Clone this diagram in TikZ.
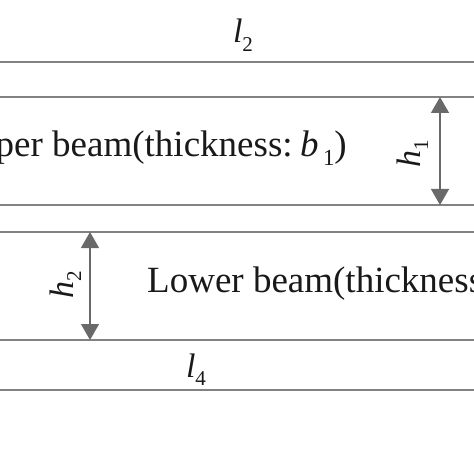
\documentclass[tikz,border=0pt]{standalone}
\usepackage{graphicx}
\usepackage{fontspec}
\setmainfont{Liberation Serif}
\usetikzlibrary{arrows.meta}
\definecolor{beamline}{RGB}{130,130,130}
\definecolor{dimgrey}{RGB}{105,105,105}
\newcommand\mysub[1]{\raisebox{-0.24em}{\scalebox{0.62}{#1}}}
\tikzset{
  beam/.style={draw=beamline, line width=1.6bp},
  dimarrow/.style={draw=dimgrey, line width=1.4bp, {Triangle[width=18bp,length=16bp]}-{Triangle[width=18bp,length=16bp]}},
  bodytext/.style={inner sep=0pt, font=\fontsize{37bp}{44bp}\selectfont, text=black!90},
  labeltext/.style={inner sep=0pt, font=\fontsize{34bp}{40bp}\selectfont, text=black!90},
}
\begin{document}
\begin{tikzpicture}[x=1bp,y=-1bp]
\useasboundingbox (0,0) rectangle (474,474);
\clip (0,0) rectangle (474,474);
% beam edges
\coordinate (a1) at (-5,62);  \coordinate (a2) at (480,62);
\coordinate (b1) at (-5,97);  \coordinate (b2) at (480,97);
\coordinate (c1) at (-5,205); \coordinate (c2) at (480,205);
\coordinate (d1) at (-5,232); \coordinate (d2) at (480,232);
\coordinate (e1) at (-5,340); \coordinate (e2) at (480,340);
\coordinate (f1) at (-5,390); \coordinate (f2) at (480,390);
\draw[beam] (a1) -- (a2);
\draw[beam] (b1) -- (b2);
\draw[beam] (c1) -- (c2);
\draw[beam] (d1) -- (d2);
\draw[beam] (e1) -- (e2);
\draw[beam] (f1) -- (f2);
% dimension arrows
\coordinate (h1top) at (440,97);
\coordinate (h1bot) at (440,205);
\coordinate (h2top) at (90,232);
\coordinate (h2bot) at (90,340);
\draw[dimarrow] (h1top) -- (h1bot);
\draw[dimarrow] (h2top) -- (h2bot);
% labels
\node[labeltext, anchor=base] (l2) at (243,43) {\textit{l}\mysub{2}};
\node[labeltext, anchor=base] (l4) at (196,377) {\textit{l}\mysub{4}};
\node[labeltext, anchor=base, rotate=90] (h1) at (420,154) {\textit{h}\mysub{1}};
\node[labeltext, anchor=base, rotate=90] (h2) at (73,285) {\textit{h}\mysub{2}};
\node[bodytext, anchor=base east] (upper) at (347,157) {Upper beam(thickness:\hspace{0.2em}\textit{b}\hspace{0.12em}\mysub{1})};
\node[bodytext, anchor=base west] (lower) at (147,292) {Lower beam(thickness:\hspace{0.2em}\textit{b}\hspace{0.12em}\mysub{2})};
\end{tikzpicture}
\end{document}
